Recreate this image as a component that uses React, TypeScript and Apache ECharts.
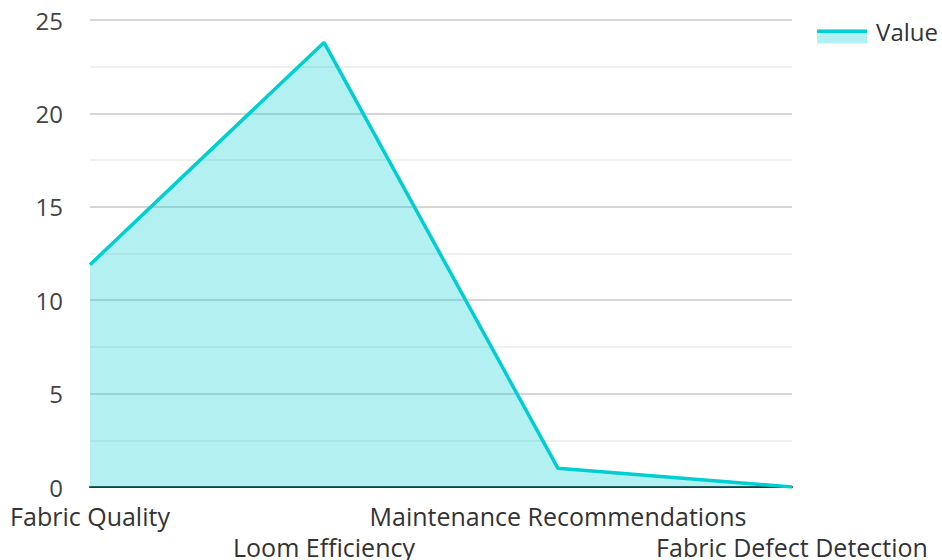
import React, { useEffect, useRef } from "react";
import * as echarts from "echarts";

const categories = [
  "Fabric Quality",
  "Loom Efficiency",
  "Maintenance Recommendations",
  "Fabric Defect Detection",
];
const values = [11.9, 23.8, 1.0, 0.0];
const seriesName = "Value";
const yMin = 0;
const yMax = 25;
const yInterval = 5;

export default function App() {
  const ref = useRef<HTMLDivElement>(null);
  useEffect(() => {
    if (!ref.current) return;
    const chart = echarts.init(ref.current, null, { renderer: "svg" });
    const font = "'Open Sans', 'Noto Sans', sans-serif";
    const lineColor = "#00CED1";
    chart.setOption({
      animation: false,
      textStyle: { fontFamily: font },
      legend: {
        right: 4,
        top: 19,
        padding: 0,
        itemWidth: 55,
        itemHeight: 14,
        icon: "rect",
        itemStyle: { color: "rgba(0,0,0,0)", borderWidth: 0 },
        textStyle: { fontSize: 24, color: "#333", fontFamily: font },
        data: [seriesName],
      },
      graphic: [
        {
          type: "rect",
          left: 817,
          top: 29.5,
          shape: { width: 50, height: 14 },
          style: { fill: "rgba(0,206,209,0.3)" },
          z: 200,
        },
        {
          type: "rect",
          left: 817,
          top: 29.5,
          shape: { width: 50, height: 3.5 },
          style: { fill: lineColor },
          z: 201,
        },
      ],
      grid: {
        left: 90,
        right: 150,
        top: 20,
        bottom: 73,
        containLabel: false,
        outerBoundsMode: "none",
      },
      xAxis: {
        type: "category",
        data: categories,
        boundaryGap: false,
        axisTick: { show: false },
        axisLine: { lineStyle: { color: "#333", width: 2 } },
        axisLabel: {
          interval: 0,
          fontSize: 25,
          color: "#333",
          margin: 13,
          lineHeight: 31,
          fontFamily: font,
          formatter: (v: string, i: number) => (i % 2 ? "\n" + v : v),
        },
      },
      yAxis: {
        type: "value",
        min: yMin,
        max: yMax,
        interval: yInterval,
        axisLine: { show: false },
        axisTick: { show: false },
        axisLabel: { fontSize: 24, color: "#444", margin: 27, fontFamily: font },
        splitLine: { lineStyle: { color: "#c8c8c8", width: 1.5 } },
        minorTick: { show: false, splitNumber: 2 },
        minorSplitLine: { show: true, lineStyle: { color: "#ebebeb", width: 1.5 } },
      },
      series: [
        {
          name: seriesName,
          type: "line",
          data: values,
          showSymbol: false,
          symbol: "none",
          lineStyle: { color: lineColor, width: 3.5 },
          itemStyle: { color: lineColor },
          areaStyle: { color: lineColor, opacity: 0.3 },
        },
      ],
    });
    return () => chart.dispose();
  }, []);
  return <div ref={ref} style={{ width: 942, height: 560, position: "absolute", left: 0, top: 0 }} />;
}
